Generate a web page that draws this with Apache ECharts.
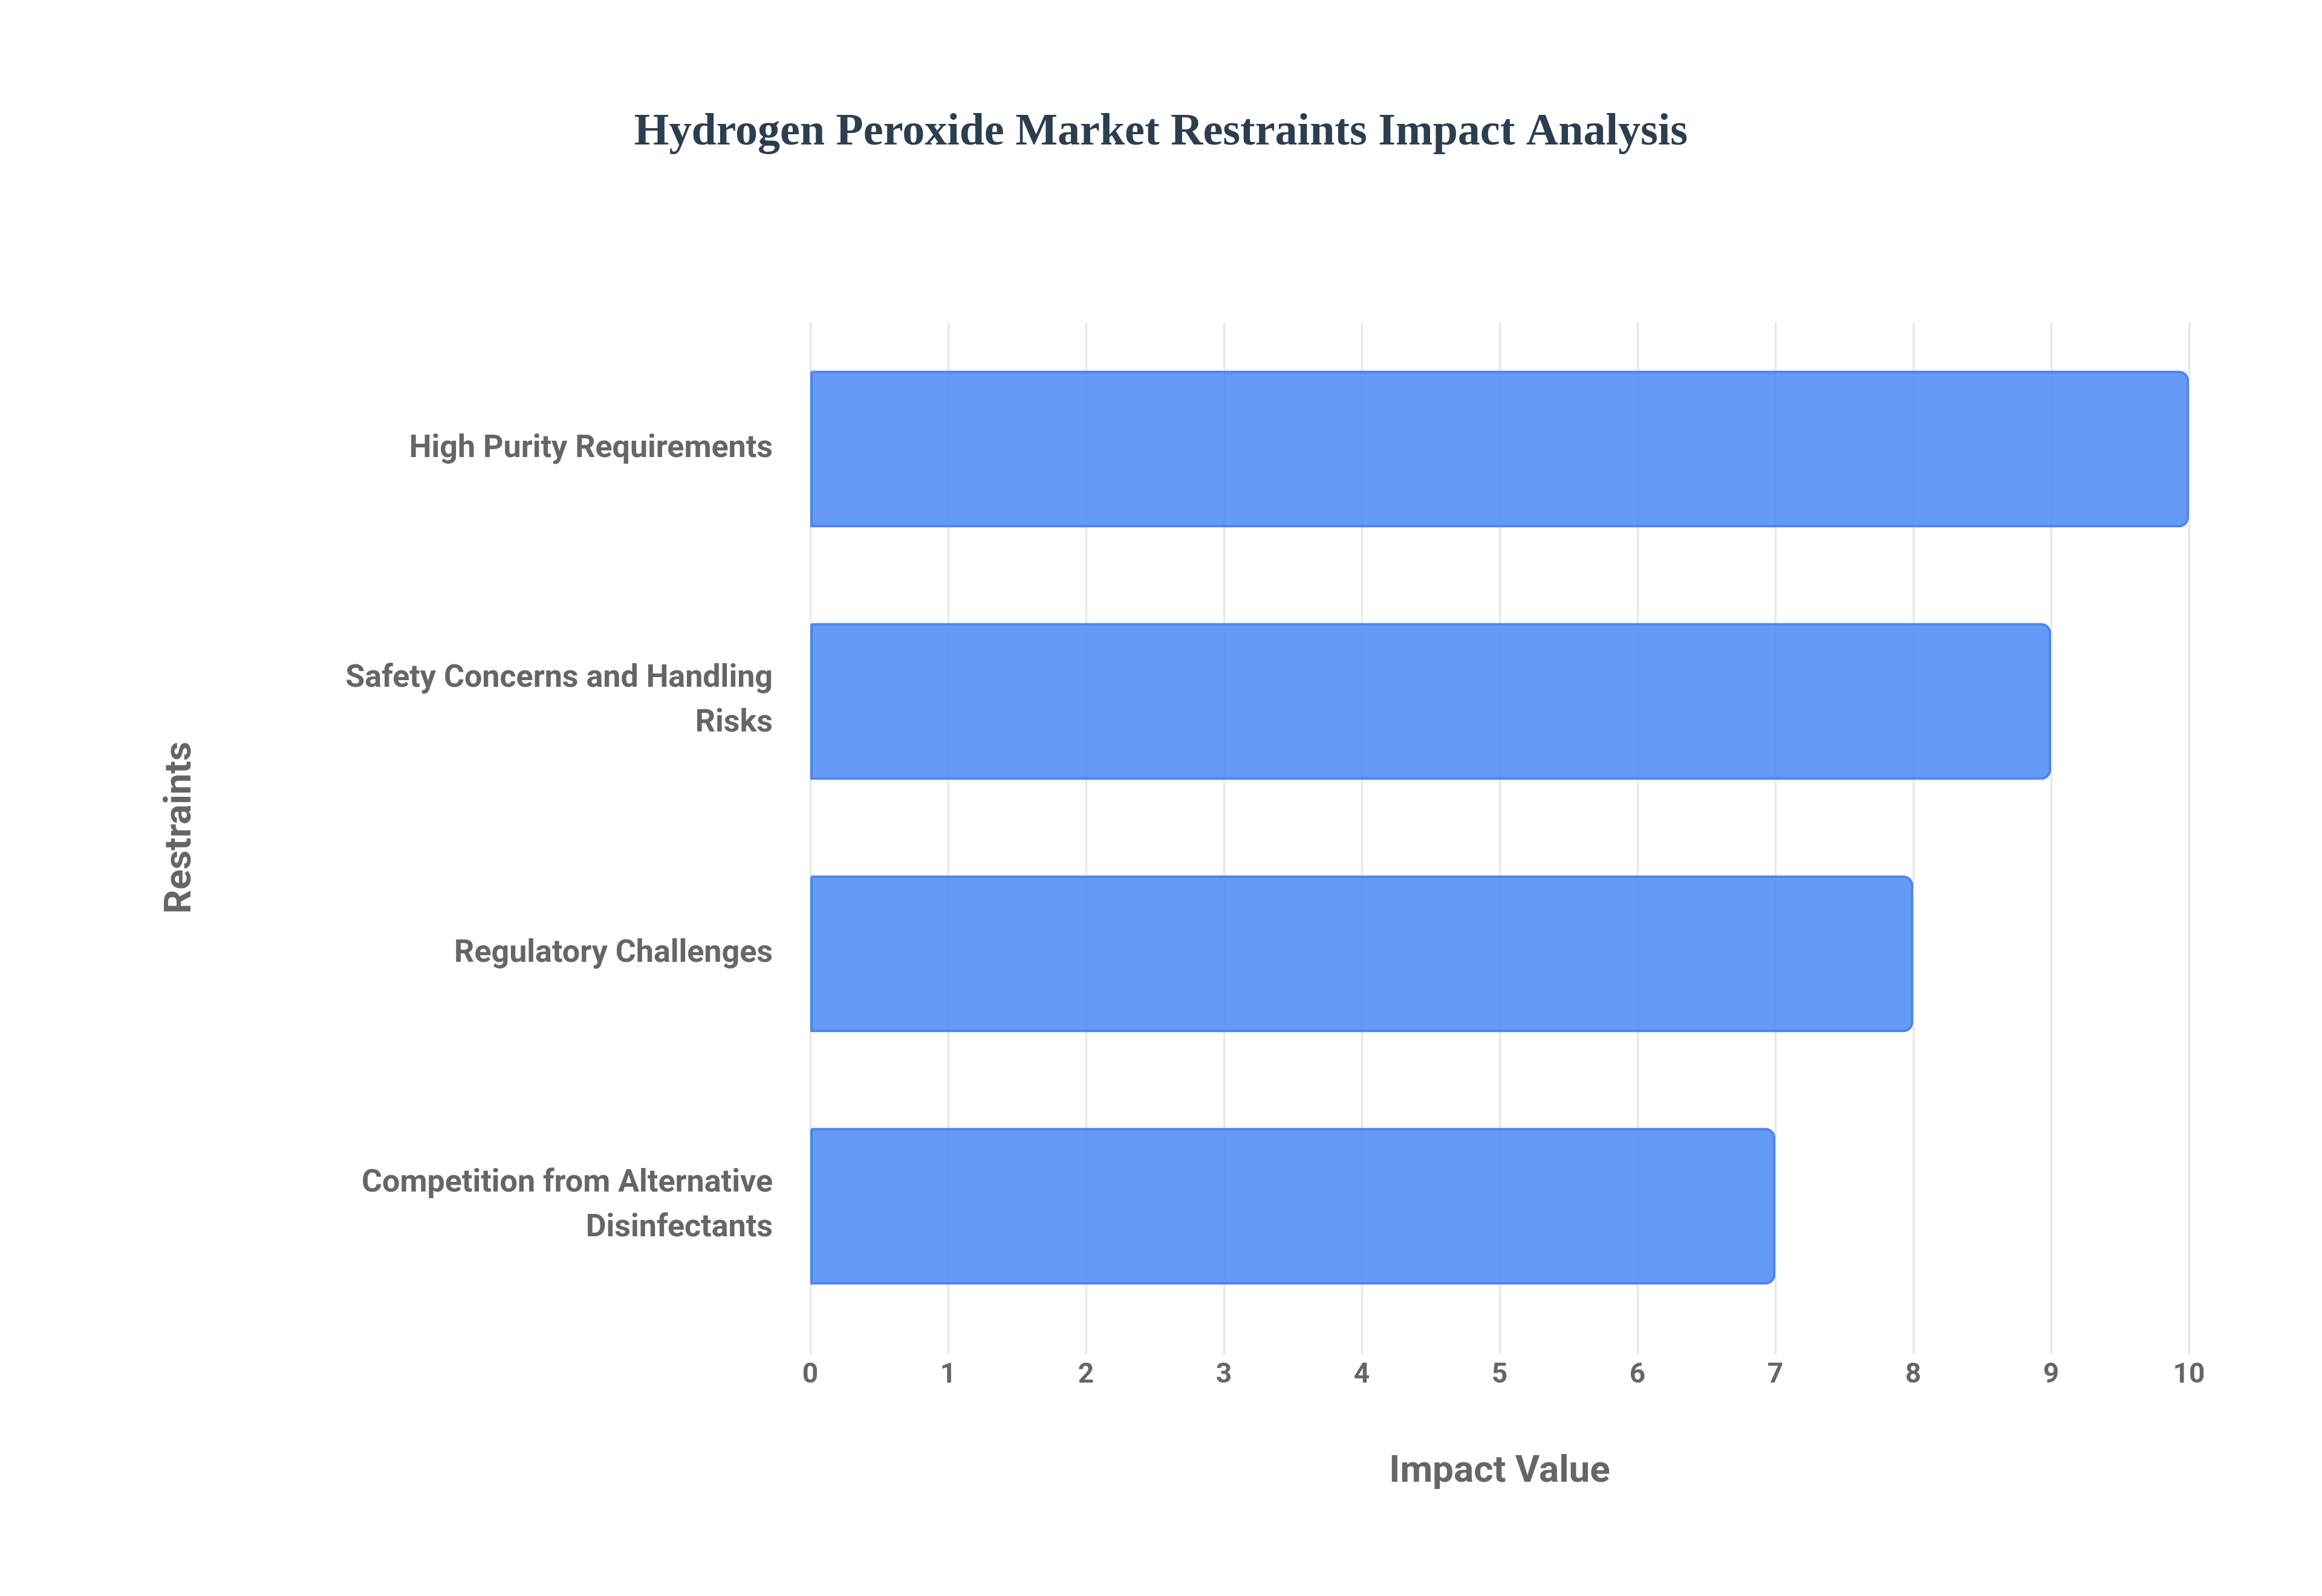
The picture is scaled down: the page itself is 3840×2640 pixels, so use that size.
<!DOCTYPE html>
<html>
<head>
<meta charset="utf-8">
<script src="https://cdn.jsdelivr.net/npm/echarts@6/dist/echarts.min.js"></script>
<style>html,body{margin:0;padding:0;background:#fff}#main{width:3840px;height:2640px}</style>
</head>
<body>
<div id="main"></div>
<script>
// restraint names and impact values
var restraints = ['High Purity Requirements', 'Safety Concerns and Handling\nRisks', 'Regulatory Challenges', 'Competition from Alternative\nDisinfectants'];
var impactValues = [10, 9, 8, 7];
var xTicks = [0, 10, 1];

var chart = echarts.init(document.getElementById('main'));
var option = {
  backgroundColor: '#fff',
  title: {
    text: 'Hydrogen Peroxide Market Restraints Impact Analysis',
    left: 'center',
    top: 178,
    textStyle: { fontFamily: 'Liberation Serif', fontWeight: 'bold', fontSize: 74, color: '#2c3e50' }
  },
  grid: { left: 1340, right: 220, top: 534, bottom: 436 },
  xAxis: {
    type: 'value',
    min: xTicks[0], max: xTicks[1], interval: xTicks[2],
    name: 'Impact Value',
    nameLocation: 'middle',
    nameGap: 200,
    nameTextStyle: { fontFamily: 'Roboto', fontWeight: 'bold', fontSize: 62, color: '#666' },
    axisLine: { show: false },
    axisTick: { show: true, length: 36, lineStyle: { color: '#e6e6e6', width: 3 } },
    axisLabel: { fontFamily: 'Roboto', fontWeight: 'bold', fontSize: 46, color: '#666', margin: 48 },
    splitLine: { show: true, lineStyle: { color: '#e6e6e6', width: 3 } }
  },
  yAxis: {
    type: 'category',
    data: restraints,
    inverse: true,
    name: 'Restraints',
    nameLocation: 'middle',
    nameGap: 1010,
    nameTextStyle: { fontFamily: 'Roboto', fontWeight: 'bold', fontSize: 62, color: '#666' },
    axisLine: { show: true, lineStyle: { color: '#e6e6e6', width: 3 } },
    axisTick: { show: false },
    axisLabel: { fontFamily: 'Roboto', fontWeight: 'bold', fontSize: 52, color: '#666', margin: 62, lineHeight: 74, align: 'right' }
  },
  series: [{
    type: 'bar',
    data: impactValues,
    barWidth: '62%',
    itemStyle: { color: 'rgba(80,140,245,0.88)', borderColor: '#4a86ee', borderWidth: 4, borderRadius: [0, 14, 14, 0] }
  }]
};
chart.setOption(option);
</script>
</body>
</html>
